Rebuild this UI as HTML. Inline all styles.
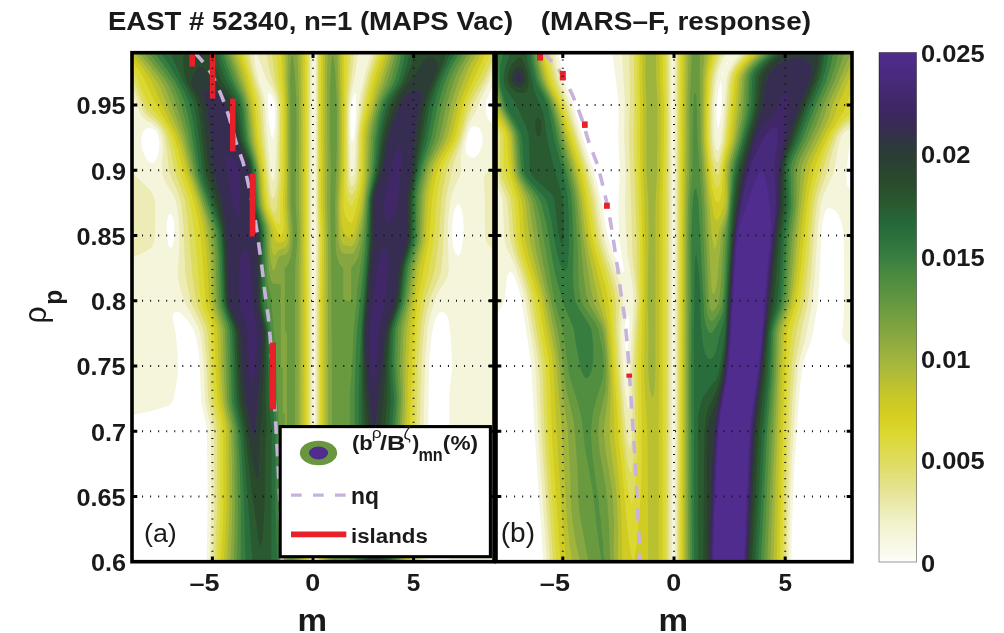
<!DOCTYPE html>
<html><head><meta charset="utf-8"><title>EAST # 52340 n=1 spectrum</title>
<style>
html,body{margin:0;padding:0;background:#fff;}
body{width:1004px;height:633px;overflow:hidden;}
svg{display:block;}
text{font-family:"Liberation Sans",Arial,Helvetica,sans-serif;fill:#1a1a1a;}
.b{font-weight:bold;}
.g{stroke:#111;stroke-width:2;stroke-dasharray:1 7.05;fill:none;}
.ax{fill:none;stroke:#000;stroke-width:3.6;}
.tk{stroke:#000;stroke-width:3;fill:none;}
.nq{fill:none;stroke:#c8b2dc;stroke-width:3.6;stroke-dasharray:12.5 10;}
.isl{fill:#e8202a;}
</style></head>
<body>
<svg width="1004" height="633" viewBox="0 0 1004 633">
<defs>
<clipPath id="cl"><rect x="132" y="52.7" width="362" height="509"/></clipPath>
<clipPath id="cr"><rect x="496" y="52.7" width="356" height="509"/></clipPath>
<linearGradient id="cb" x1="0" y1="0" x2="0" y2="1">
<stop offset="0.0000" stop-color="#502c8e"/>
<stop offset="0.0400" stop-color="#4a2a80"/>
<stop offset="0.1120" stop-color="#3e2763"/>
<stop offset="0.1400" stop-color="#3a2a58"/>
<stop offset="0.1800" stop-color="#2e383e"/>
<stop offset="0.2200" stop-color="#2a4232"/>
<stop offset="0.2520" stop-color="#2a4a2c"/>
<stop offset="0.3000" stop-color="#2a5a30"/>
<stop offset="0.3400" stop-color="#256a3a"/>
<stop offset="0.3920" stop-color="#347a40"/>
<stop offset="0.4360" stop-color="#4a8a40"/>
<stop offset="0.5000" stop-color="#6a9a40"/>
<stop offset="0.5560" stop-color="#88a840"/>
<stop offset="0.6160" stop-color="#a8b83c"/>
<stop offset="0.6760" stop-color="#c8c828"/>
<stop offset="0.7120" stop-color="#d6ce20"/>
<stop offset="0.7480" stop-color="#dcd830"/>
<stop offset="0.8040" stop-color="#dedc60"/>
<stop offset="0.8640" stop-color="#e6e498"/>
<stop offset="0.9240" stop-color="#f2f2cc"/>
<stop offset="0.9840" stop-color="#fafaf0"/>
<stop offset="1.0000" stop-color="#fefefa"/>
</linearGradient>
</defs>
<rect width="1004" height="633" fill="#fff"/>
<g clip-path="url(#cl)"><rect x="132" y="52.7" width="362" height="509" fill="#fff"/>
<path fill="#f5f5dc" d="M208.4 561.7L428.1 561.7L428.2 424.7L429.3 359.4L431.7 334.9L433.7 324.4L435.7 318.8L437.7 314.8L439.7 312.2L441.7 311.7L443.7 312.3L445.7 313.8L447.7 316.9L448.7 320.3L450.9 339.8L452 359.4L452 369.2L449.8 388.8L449.2 398.6L449.2 561.7L494 561.7L494 123.9L490 121.8L488 119.6L486.3 114.7L485.7 108.2L486.1 101.6L487.1 98.4L494 82.7L494 52.7L132 52.7L132 415.2L148.7 411.6L160.9 408.3L168.2 405.8L170.2 404.4L172.4 401.8L173.7 398.6L176.2 385.1L177.4 375.7L178 365.9L177.5 352.9L175.8 333.3L172.5 317L173.3 313.7L174.2 312.8L176.2 311.8L178.3 311.8L180.3 312.8L186.3 318.7L192.3 327.2L194.3 331.8L196.4 339.3L198.9 352.9L199.8 362.7L201 401.8L206.1 424.7L206.8 431.2L207.8 496.4L206.6 561.7ZM456.9 255L455.8 254.2L454.8 251.7L453.8 249L453.1 245.2L452.1 235.4L452.1 225.6L453.8 212.6L455.8 206.8L457.8 204.4L459.8 204.9L461.8 209.7L462.9 215.8L463.6 225.6L463.4 235.4L461.8 248.5L459.8 254.1L457.8 255.7ZM168.3 245.2L166.7 235.4L166.4 228.9L166.8 222.4L168.2 215.7L170.2 213.4L172.2 215.2L174.2 222.5L174.6 235.4L174.2 239.4L172.2 247L170.2 248.4ZM147.6 160.4L145.3 157.1L143.8 153.8L142 147.3L141.3 140.8L142.1 134.3L144.1 130.2L146.1 128.7L148.1 128.1L152.1 128.2L155.9 131L157.8 134.3L159.2 140.8L159.4 147.3L158.1 154.9L156.1 159.8L154.1 162.3L152.1 163.1L150.1 162.5L148.1 160.9ZM470.1 157.1L467.9 155.8L465.8 152.5L465.5 147.3L465.9 144.1L467.9 135.1L469.9 129.6L471.9 126.8L473.9 126.3L475.9 126.4L478.7 127.7L481.2 131L482.6 137.5L482.6 140.8L481.4 147.3L478.3 153.8L475.9 156.4L473.9 157.4L471.9 157.6ZM352.4 140.8L351.2 139.1L351.1 137.5L350.6 124.5L350.8 111.4L351.2 105.4L353.2 96.1L354.1 95.1L355.2 91.8L355.9 95.1L356.1 114.7L355.2 125.9L353.2 141.9ZM272.3 137.5L270.8 134L268.8 122L268 111.4L267.7 95.1L268.8 93.1L270.8 94.3L273.1 98.4L274.8 104.9L275.1 114.7L274.8 125.5L272.8 138.9Z"/>
<path fill="#edecb7" d="M210.4 561.7L312.5 561.7L312.5 300.7L311.5 235.4L311.6 52.7L254.7 52.7L256.7 54.5L258.7 58.5L266.3 78.8L272.8 90.5L274.7 95.1L276.4 101.6L276.9 108.2L277 121.2L275.7 160.4L274.8 175.8L272.8 181.9L270.8 174.3L266.7 131.5L264.7 101.6L263.5 95.1L258.7 81.2L256.7 73L254.7 62.5L254.3 56L254.7 52.7L132 52.7L132 93.2L136 101.6L139.2 111.4L142.1 116.6L146.1 120.5L152.1 123.7L157 127.7L159.4 131L161.8 137.5L162.7 144.1L163 150.6L162 166.9L162.3 173.4L163.1 176.7L165.8 183.2L172.2 193.1L174.2 197L176.2 203L178.5 215.8L179.5 235.4L179.2 248.5L177.7 271.3L178.5 281.1L180.9 290.9L185.4 303.9L194.7 320.3L198.4 327.7L200 333.3L201.1 339.8L203.3 359.4L205.1 401.8L210.2 424.7L210.8 431.2L211.4 503L209.7 561.7ZM317 561.7L423.6 561.7L423.8 414.9L425.2 359.4L427.6 329.2L430 317L435.7 297.4L437.7 293.5L445.4 281.1L448.2 274.6L448.8 271.3L447.8 235.4L448.1 222.4L449.1 209.3L450.6 199.5L452.3 193L455.8 184.1L461 173.4L461.5 170.2L460.6 163.6L460.5 157.1L462.3 147.3L467.9 126.2L471.9 117.9L475.9 111.4L480.7 98.4L489.2 82.1L494 70.1L494 52.7L371.1 52.7L366.4 69L360.1 95.1L356.2 134.3L354.4 170.2L353.2 176.2L351.2 176L350.6 170.2L349.2 134.3L349.2 111.9L350.4 98.4L354.3 78.8L358.3 52.7L315.7 52.7L315.7 202.8L316.2 235.4L315.4 297.4L315.4 561.7ZM134 256.3L142.1 253.5L150.1 248.7L152.1 246.5L154.1 242L155 235.4L155.1 202.8L154.7 199.5L153.7 196.3L150.1 189.9L136.3 176.7L133.7 173.4L132 170.2L132 256.8ZM492 248.6L494 249.9L494 170.2L490 170.5L488 171.3L486 173L484.2 176.7L483.9 180L484.9 199.5L485 235.4L485.3 238.7L486.5 241.9L488.5 245.2L491.8 248.5Z"/>
<path fill="#e4e28b" d="M212.4 561.7L310.6 561.7L310.6 297.4L309.9 235.4L310 52.7L266.2 52.7L270 72.3L271.6 78.8L276.8 94.6L278.5 104.9L278.6 131L277.5 176.7L276.8 185L274.8 196.2L272.8 199.6L270.8 194.3L268.8 179.4L264.7 138.4L262 101.6L260.6 95.1L254.7 76.5L249.1 52.7L132 52.7L132 86L138 97.9L141.7 108.2L143.5 111.4L146.1 114.8L156.1 123.1L160.2 127.6L162.3 131L164.8 137.5L166.5 147.3L169 170.2L171 176.7L178.3 193.3L180.2 199.5L181.4 206.1L183.4 225.6L185.2 271.3L187 284.4L191.7 303.9L201 323.5L203.3 330L204 333.3L206.3 356.1L208.2 398.6L209.1 405.1L213.6 424.7L214.2 431.2L214.5 505.2L212.3 561.7ZM319 561.7L419.9 561.7L420.1 414.9L421.7 359.4L423.6 333.3L424.7 323.5L427.6 308.3L430.3 297.4L439 277.8L441.1 271.3L442.9 251.7L444.5 215.8L445.7 200.7L447.6 189.7L453.6 163.6L461.6 140.8L464.9 127.7L467.9 118.5L473.9 102.7L485.6 82.1L494 63.1L494 52.7L374.5 52.7L368.4 72.3L364.2 88.6L362.2 98.4L357.8 134.3L356.6 173.4L355.2 181.2L353.2 185.6L351.2 186.4L349.2 179.9L348.8 173.4L347.9 114.7L348.7 98.4L351.4 78.8L354.2 52.7L317 52.7L317 202.8L317.8 235.4L317.2 297.4L317.2 561.7Z"/>
<path fill="#dedc5d" d="M216.5 561.7L309.2 561.7L309.1 297.4L308.5 235.4L308.6 52.7L271.7 52.7L274.2 72.3L275.9 82.1L279 95.1L280.2 104.9L279.7 176.7L276.8 207.3L275.7 212.6L274.8 213.6L272.8 211.4L270.8 207.1L268.8 197.1L265.8 166.9L262.6 140.8L259.4 101.6L258 95.1L254 82.1L246.2 52.7L132 52.7L132 73.4L134.4 82.1L143.6 104.9L145.2 108.2L147.8 111.4L156.1 119.1L160.2 123.5L163.2 127.7L166.6 134.3L169.4 144.1L174.3 170.2L183.7 196.3L185.2 202.8L187.5 219.1L192.2 274.6L195.5 297.4L197.9 307.2L205 323.5L207 330L207.6 333.3L208.9 349.6L211.3 398.6L212.2 405.1L216.2 421.4L217.3 431.2L217.3 506.2L214.8 561.7ZM319 561.7L416.4 561.7L416.5 418.1L418.6 356.1L420.6 330L422.3 317L425.9 297.4L432.6 277.8L435 268L438.9 238.7L441.3 199.5L443.3 186.5L447.6 166.9L450.1 160.4L459.2 140.8L465.8 116L470.6 101.6L473.9 95.1L483.9 78.8L494 56.1L494 52.7L377.4 52.7L370 75.5L364.6 98.4L360.3 124.5L359.2 134.3L358.3 176.7L357.2 183L355.2 189.8L353.2 193.6L351.2 194.8L349.2 192.4L347.6 183.2L346.7 124.5L347.1 101.6L350.8 52.7L318 52.7L318.1 202.8L319.1 235.4L318.5 300.7L318.5 561.7Z"/>
<path fill="#dcd832" d="M218.5 561.7L307.7 561.7L307.1 52.7L276.4 52.7L278.6 78.8L281.5 98.4L282 104.9L281.7 173.4L280.1 202.8L280.3 219.1L280.1 222.4L278.8 225.1L276.8 223.5L272.8 216.9L270.7 212.6L268.3 206.1L266.7 195.9L264 166.9L260.1 137.5L256.9 101.6L254.7 91.9L243.5 52.7L132 52.7L132 67.2L134.7 72.3L142.1 91.4L148.7 104.9L151 108.2L158.1 116.3L164.2 124.5L168 131L170.9 137.5L173.6 147.3L179 170.2L189 199.5L191.6 212.6L195.2 238.7L199.3 287.6L200.8 300.7L202.4 307.2L209.8 326.8L211 333.3L213 379L214.3 398.6L215.3 405.1L219.3 421.4L220.2 427.9L220.2 506.2L219.4 529.1L217.5 561.7ZM321 561.7L413 561.7L413 424.7L414.8 369.2L416 346.4L418 323.5L421.3 300.7L428.4 271.3L433.6 241.9L434.6 232.2L436 206.1L437.5 193L439.9 180L443.1 166.9L446.1 160.4L453.8 146.7L456.5 140.8L458.6 134.3L464.3 111.4L467.3 101.6L470.3 95.1L483.9 69.2L491 52.7L380.3 52.7L375.3 66.2L371.3 79.6L367.7 95.1L363.3 117.3L360.8 134.3L360.4 170.2L359.8 180L358 189.7L355.2 199.1L353.2 203.7L351.2 205.6L349.2 204.3L347.2 199.4L346.2 193L345.8 186.5L345.5 111.4L347.5 52.7L319.1 52.7L319.2 202.8L320.5 235.4L319.9 300.7L319.9 561.7Z"/>
<path fill="#d1cc23" d="M222.5 561.7L305.9 561.7L305.9 300.7L305.2 245.2L305 52.7L280.8 52.7L281.8 78.8L283.8 101.6L283.9 114.7L283.8 173.4L282.8 202.8L283.8 225.6L283.1 232.2L280.8 235.4L278.8 234.2L276.8 230.7L268.8 213L266.4 206.1L265 196.3L262.3 166.9L257.7 137.5L254.2 101.6L248.6 78.8L240.6 52.7L132 52.7L132 60.6L138.1 69L144.1 78.8L156.2 104.9L169.6 127.7L174.2 137.5L177.3 147.3L183.3 170.2L193.4 199.5L198.4 222.1L200.4 235.4L202.1 251.7L205.4 300.7L206.7 307.2L212.4 323.5L214.1 330L215.9 375.7L217.5 398.6L218.5 405.1L222.4 421.4L223.3 427.9L223.4 506.2L222.4 532.3L220.5 561.7ZM323.1 561.7L409.5 561.7L409.6 427.9L412.4 349.6L414.2 326.8L417.6 300.7L429.3 238.7L431.7 202.8L432.9 193L435.7 178.2L438.8 166.9L442 160.4L450 147.3L453.5 140.8L455.8 134.1L461 111.4L463.9 101.6L467.9 92L486 52.7L383.4 52.7L377.4 69L373.5 82.1L363.9 124.5L362.6 134.3L362.2 173.4L361.3 183.2L359.3 195.6L355.2 213.6L353.2 220L351.2 222.8L349.2 222L347.2 219.6L345.3 215.8L344.3 212.6L343.3 206.1L344.1 170.2L344.2 52.7L320.9 52.7L320.8 202.8L322.2 235.4L321.5 300.7L321.5 561.7Z"/>
<path fill="#bac131" d="M224.5 561.7L303.6 561.7L303.6 300.7L302.7 52.7L283.6 52.7L284.1 78.8L285.6 104.9L285.6 173.4L285 202.8L286.7 232.2L286.5 235.4L284.8 240.3L282.8 242.3L280.8 243L276.8 242.4L274.8 240.2L273.6 232.2L271.7 225.6L266.7 213L264.6 206.1L263.3 196.3L261.2 170.2L255.5 137.5L253.2 111.4L251.8 101.6L245 75.5L237.5 52.7L132 52.7L132 54.8L143.2 69L151.9 82.1L163.3 108.2L176.3 134.3L180.3 145.8L187.5 173.4L196.6 199.5L203.7 228.9L206.7 255L209.2 300.7L210.4 307.2L215.7 323.5L217.3 330L218.7 372.5L220.3 398.6L221.3 405.1L224.5 418.3L226.2 427.9L226.6 506.2L225.8 529.1L223.9 561.7ZM325.1 561.7L406.6 561.7L406.6 427.9L407.7 398.6L408.2 365.9L409.3 343.1L411 323.5L417.6 279.9L419.6 268L424.2 248.5L425.9 238.7L427.7 206.1L429.1 193L431.7 179.1L435 166.9L438.2 160.4L449.8 140.8L453 131L458 108.2L461.2 98.4L471.8 72.3L481.3 52.7L386.6 52.7L377.7 78.8L372.4 98.4L366.1 124.5L365 131L364.5 137.5L363.9 176.7L361.3 199.1L359.3 211.5L355.2 228.9L353.2 235.5L351.2 237.7L347.2 236.4L345.2 234.7L343.2 231.6L341.5 222.4L340.9 215.8L340.7 202.8L342.3 170.2L342.3 101.6L341.6 52.7L322.9 52.7L322.8 202.8L324.1 235.4L323.6 300.7L323.6 561.7Z"/>
<path fill="#9fb43d" d="M228.5 561.7L301.3 561.7L301 268L301.6 235.4L301 202.8L301.2 101.6L300.2 52.7L285.7 52.7L285.9 78.8L287.1 104.9L287.3 173.4L286.8 202.8L288.8 235.4L288 241.9L286.9 245.9L284.8 248L278.8 250.1L274.8 255.8L272.8 254L271.8 248.5L271.4 245.2L271.3 235.4L270.5 228.9L263.9 209.3L262.5 202.8L259.9 170.2L254.1 140.8L251.2 111.4L249.8 101.6L241.2 72.3L234.5 52.7L134.7 52.7L148 69L157.2 82.1L160.5 88.6L170.9 114.7L178.3 131.1L182.7 144.1L189.8 173.4L198.8 199.5L204.4 219.1L207.5 232.2L210.4 261L212.2 300.7L213.3 307.2L218.6 323.5L220.1 330L221.3 372.5L222.8 398.6L223.7 405.1L228.2 424.7L228.8 431.2L229.5 506.2L228.7 532.3L227.1 561.7ZM327.1 561.7L404 561.7L404.1 427.9L405.3 398.6L405.3 362.7L406.5 336.6L407.8 323.5L411.9 300.7L416.2 271.3L417.6 264.1L422.3 245.2L423.4 238.7L425 202.8L426 193L428.5 180L431.9 166.9L435.7 158.9L444.3 144.1L447.2 137.5L450 127.7L454 108.2L459.8 90.3L466.8 72.3L471.5 62.5L476.9 52.7L389.6 52.7L375 98.4L368.3 124.5L366.6 137.5L365.7 176.7L361.3 215L357.2 233.8L355.2 241.2L353.2 245.1L351.2 246.3L347.2 245.9L343.2 244.7L341.5 241.9L340.3 235.4L339.3 222.4L338.9 202.8L340.5 173.4L340.8 140.8L340.7 101.6L339.5 52.7L325.1 52.7L324.7 82.1L324.8 202.8L325.9 235.4L325.7 561.7Z"/>
<path fill="#85a640" d="M230.5 561.7L298.7 561.7L298.6 268L299.7 235.4L298.8 202.8L299.1 101.6L297.5 52.7L287.9 52.7L287.7 78.8L288.6 104.9L288.5 202.8L290.5 228.9L290.2 241.9L288.9 248.9L286.9 253.7L284.8 255.1L280.8 255.6L278.8 257L277 261.5L274.8 269.7L272.8 270.3L270.8 262.3L270 255L269.3 245.2L269.2 232.2L267.8 225.6L262.5 209.3L261.1 202.8L258.6 170.2L257.6 163.6L252.3 140.8L248.6 104.9L246.1 95.1L231.7 52.7L139.1 52.7L150 65.8L159.9 78.8L163.9 85.3L166.9 91.9L183.6 137.5L191.9 173.4L200.8 199.5L207.8 222.4L210.3 232.2L213 258.3L215.2 303.9L216.8 310.5L222 326.8L222.9 333.3L223.6 365.9L225 398.6L225.9 405.1L230.4 424.7L231.1 431.2L231.9 460.6L232.3 506.2L231.7 532.3L230.3 561.7ZM329.1 561.7L401.7 561.7L401.7 431.2L403.2 395.3L402.4 365.9L403.2 339.8L404.2 326.8L409.1 303.9L414.3 268L420.8 241.9L421.5 235.4L423 196.3L424.5 186.5L427.6 172.6L429.2 166.9L431.7 160.8L440.5 144.1L443.3 137.5L445.9 127.7L450.7 104.9L459.2 78.8L465.1 65.8L472.7 52.7L392.5 52.7L383.6 82.1L376.3 101.6L370.5 124.5L368.8 137.5L367.7 173.4L361.6 225.6L359.3 238.2L357.2 245.7L354.4 251.7L353.2 253.2L351.2 254.1L343.2 253.4L341.2 251.8L339.1 246.2L338.1 238.7L337.2 206.1L338.7 173.4L339 104.9L337.3 52.7L327.8 52.7L327 75.5L327.5 170.2L327 202.8L327.9 232.2L328 264.8L328.2 561.7Z"/>
<path fill="#6a9a40" d="M234.6 561.7L284.8 561.7L284.8 414.9L282.8 411.6L282.8 369.2L280.8 365.9L280.8 303.9L278.8 300.7L280.8 297.4L280.8 284.4L272.8 283.6L270.8 280.2L269.2 271.3L268.6 264.8L267.6 245.2L267.5 232.2L266.2 225.6L260.3 206.1L259.2 196.3L257.5 170.2L256.4 163.6L252.1 147.3L250.1 137.5L246.9 104.9L244.6 96.6L239 82.1L228.8 52.7L144.1 52.7L164.4 78.8L168.5 85.3L172.9 95.1L177.4 108.2L186.3 136.9L194.8 176.7L210.2 222.4L212.8 232.2L214.4 245.2L215.4 258.3L217.1 300.7L218.2 307.2L223.4 323.5L225 330L227.2 398.6L228.1 405.1L232.5 424.7L233.3 431.2L234.4 460.6L235 506.2L234.7 532.3L233.6 561.7ZM288.9 561.7L294.9 561.7L294.9 290.9L295.3 264.8L296.9 245.8L297.3 235.4L295.7 202.8L295.8 166.9L296.5 140.8L296.5 101.6L294.9 74.2L292.9 54.8L290.9 57L289.9 82.1L290.5 104.9L290.8 206.1L292.5 225.6L292.8 238.7L292 248.5L290.2 258.3L288.9 262.1L286.9 266.1L284.8 268L284.8 330L286.9 333.3L286.9 561.7ZM333.1 561.7L399.5 561.7L399.5 431.2L401.1 398.6L399.7 362.7L400.9 330L402 323.5L407.6 300.7L412.7 264.8L418.8 241.9L419.5 235.4L420.6 196.3L422.2 186.5L425.8 170.2L429.1 160.4L436.8 144.1L439.3 137.5L441.7 127.7L445.7 107.6L453.8 80.7L458.8 69L468.5 52.7L395.3 52.7L392 65.8L387.1 82.1L379.8 98.4L377.5 104.9L372.8 124.5L371 137.5L369.4 173.4L366.1 196.3L363.9 222.4L361.8 238.7L359.3 252.6L357.2 258.9L355.2 262.7L351.2 268L351.2 300.7L345.2 300.7L343.2 303.9L343.2 333.3L343.2 268L341.2 266.5L339.1 263.2L337.3 258.3L336.1 251.7L335.5 241.9L335.1 202.8L337 144.1L337 104.9L335.1 69.2L333.1 52.7L331.1 61.9L329.9 88.6L330 140.8L330.8 170.2L330.2 206.1L331.5 294.1L331.9 362.7L331.9 561.7Z"/>
<path fill="#518e40" d="M238.6 561.7L280.6 561.7L279.3 506.2L279.2 427.9L277.4 398.6L276.1 359.4L272 310.5L271.4 297.4L268.1 284.4L267.1 274.6L265.9 232.2L264.7 225.6L259 206.1L258 196.3L256.3 170.2L254.7 161.6L249 140.8L247.7 131L246 111.4L244.6 102.7L242.6 96.5L235.1 78.8L225.9 52.7L148.8 52.7L160.2 66.9L170.2 80.9L174.5 88.6L178.7 98.4L181.8 108.2L188.3 133L195.1 170.2L196.7 176.7L212.5 222.4L215.2 232.2L216.5 242.3L217.6 258.3L219.3 300.7L220.4 307.2L225.7 323.5L227.3 330L229.4 398.6L230.2 405.1L234.6 424.7L235.5 431.2L236.9 460.6L237.8 503L237.7 532.3L237 561.7ZM351.2 561.7L397.2 561.7L397.2 431.2L398.9 398.6L397.1 365.9L398.1 330L399.4 323.5L404.2 307.2L405.6 300.7L410.6 264.8L416.9 241.9L417.6 235.4L418.4 196.3L419.9 186.5L423.5 170.2L426.4 160.4L433.1 144.1L435.3 137.5L441.7 106.6L448.9 82.1L454.4 69L464.2 52.7L463.8 52.7L398.2 52.7L396.3 62.5L391.8 78.8L389.2 85.3L380.8 101.6L376.4 118L373.3 136.7L371.4 170.2L367 199.5L365.3 225.1L363.3 246.1L357.2 290.9L356 307.2L353.9 326.8L351.6 372.5L349.9 392L349.8 561.7Z"/>
<path fill="#387d40" d="M242.6 561.7L279.1 561.7L277.5 509.5L277.3 427.9L274.5 401.8L273 362.7L271.3 333.3L266.7 303.9L265 274.6L264.4 232.2L263.2 225.6L257.7 206.1L254.7 166.9L247.3 140.8L243.2 104.9L240.6 96.7L232.1 78.8L222.9 52.7L154.4 52.7L166.2 68.4L175.2 82.1L180.4 91.9L184.3 101.6L187.7 114.7L191.1 131L198.4 175.2L200.8 183.2L214.7 222.4L217.4 232.2L219.5 255L221.3 300.7L222.4 307.2L227.9 323.5L229.5 330L230.1 339.8L231.7 398.6L232.6 405.8L237.4 427.9L238.2 437.7L239.7 463.8L240.8 503L240.8 561.7ZM355.2 561.7L394.8 561.7L394.8 431.2L396.7 398.6L394.5 365.9L394.8 346.4L395.6 330L397 323.5L403.1 303.9L404.7 294.1L407.9 268L415.1 241.9L415.8 235.4L416.3 196.3L417.8 186.5L421.9 166.9L431.4 137.5L437.7 106.1L443.6 85.3L450.3 69L453.8 62.5L460 52.7L401.3 52.7L399.9 62.5L395.5 78.8L392.6 85.3L383.2 101.6L381.1 108.2L378.7 118L375.3 139.4L373.2 170.2L368.2 199.5L365.3 248.4L357.4 326.8L355.8 352.9L354.6 395.3L354.6 561.7Z"/>
<path fill="#286d3b" d="M246.6 561.7L277.2 561.7L275.4 512.8L275.2 427.9L271.4 398.6L269.2 333.3L268.4 326.8L264.7 311.8L263.5 303.9L262.9 232.2L261.7 225.6L256.4 206.1L255.5 196.3L254 170.2L251.8 160.4L245.5 140.8L243.9 131L242.1 111.4L240.6 102.8L238.6 97.5L228.8 78.8L223.9 65.8L219.6 52.7L161.1 52.7L170.2 66.5L178.3 79.9L184.6 91.9L188.7 101.6L193 121.2L200.4 173.5L204.2 186.5L216.5 220.9L219.6 232.2L220.5 239.7L221.8 261.5L223 300.7L225.2 310.5L230 323.5L231.7 330L232.4 339.8L234.3 401.8L239.7 427.9L241.2 444.2L243.9 496.4L245.5 561.7ZM359.3 561.7L392 561.7L392 431.2L394 398.6L392.2 372.5L391.9 362.7L393.3 330L395.5 321.3L401.2 303.9L402.9 294.1L405.9 268L407.5 261.2L413.3 241.9L413.9 235.4L414.3 196.3L415.7 186.5L419.7 166.9L427 140.8L433.2 108.2L437.5 91.9L440.9 82.1L446.5 69L449.8 62.4L455.5 52.7L404.9 52.7L404.2 59.2L403 65.8L399.2 78.8L396.2 85.3L385.9 101.6L382 114.7L379.4 127.7L377.5 140.8L375 170.2L370.3 193L369.3 199.5L367.3 248.5L361.5 317L358.7 388.8L358.5 561.7Z"/>
<path fill="#2a5a30" d="M252.7 561.7L271.2 561.7L271.6 427.9L268.3 398.6L267.6 333.3L266 323.5L262.7 310.5L261.8 303.9L261.6 232.2L259.6 222.4L255.9 209.3L254.7 202.8L253.3 176.7L252.3 166.9L249.4 157.1L244.5 144.1L242.8 137.5L238.4 104.9L236 98.4L224.9 78.8L219.9 65.8L216 52.7L170.4 52.7L183.4 82.1L190.3 95.1L194 104.9L196.4 118L203.3 173.4L205.9 183.2L218.5 220.7L221.3 232.2L222.7 248.5L224.1 290.9L224.9 303.9L226.8 310.5L232.9 326.8L234.1 333.3L236.6 398.6L237.9 408.3L242.1 427.9L243.2 437.7L252.6 561.7ZM363.3 561.7L388.7 561.7L388.7 431.2L390.7 401.8L389.6 365.9L390.3 346.4L391.4 330L393.4 322.1L398.7 307.2L400.4 300.7L403.5 273.4L405 264.8L410.1 248.5L411.7 241.9L412.4 235.4L412.4 202.8L413 193L417.6 167.7L424.4 137.5L429.6 107.7L432 98.4L435.7 86.9L445.7 63.2L451.1 52.7L409.5 52.7L407 65.8L401.5 82.1L390.9 98.4L387.7 104.9L384.1 118L380.8 134.3L376.6 170.2L372 189.7L370.2 199.5L369 241.9L362.2 330L361.4 392L361.9 431.2L361.9 561.7Z"/>
<path fill="#2a4a2c" d="M365.3 561.7L385 561.7L385.1 427.9L387.1 401.8L387.6 365.9L389.4 333.3L391.6 323.5L398.3 303.9L400 294.1L403 268L404.5 261.5L410.4 241.9L411.1 235.4L411.3 196.3L425.9 111.4L428.1 101.6L431.1 91.9L442 65.8L446.1 52.7L416.1 52.7L404.7 82.1L392.4 101.6L389.4 109.9L385.4 124.1L383.1 134.3L381.4 144.1L378.2 170.2L373.1 189.7L371.2 199.5L370 245.2L364.1 317L363 336.6L363.3 385.2L365.1 431.2L365.1 561.7ZM260.7 547.7L262.7 538L263.2 532.3L265.1 493.2L265.3 450.8L266.6 424.7L265.3 395.3L266.1 333.3L265.4 326.8L261.6 310.5L260.6 303.9L260.5 232.2L259.4 225.6L254.1 206.1L251.2 166.9L249.3 160.4L241.7 140.8L239.6 131L236.6 110.8L234.6 102.7L232.6 98.2L224.2 85.3L220.6 78.8L215.4 65.8L211.8 52.7L184.5 52.7L183.7 56L183.1 62.5L184.1 72.3L186.6 82.1L195.3 98.4L197.6 104.9L199.9 118L204.4 159.6L206.3 173.4L207.9 179.9L214.2 199.5L219.8 219.1L222.7 232.2L224 251.7L225.6 300.7L226.9 307.2L234.6 326.8L235.9 333.3L238.2 385.5L239.3 401.8L244.5 427.9L252.7 498.4L258.7 541L260.1 545.4Z"/>
<path fill="#2c3d38" d="M369.3 561.7L380.6 561.7L380.7 427.9L382.8 405.1L387.8 333.3L390.1 323.5L395.5 308.9L397.5 301.7L400.7 274.6L402.3 264.8L407.5 248.4L409.5 239.5L409.7 202.8L410.3 193L413.6 173.4L422.8 111.4L425.1 101.6L428.2 91.9L430.6 85.3L435.7 74.4L437.6 69L437.6 65.8L435.7 60.4L433.7 58.2L431.7 57.3L429.6 57.3L427.6 58L425.6 59.4L422.7 62.5L415.6 73.6L409.5 81.2L400 95.1L395.5 103.2L389.4 120.4L385.4 134.6L383.4 145.1L379.8 170.2L373.3 192.5L372.6 196.3L372 202.8L371 245.2L364.8 320.3L364.1 336.6L364.8 379L366.2 401.8L368.4 427.9L368.4 561.7ZM256.7 478.3L258.7 476.4L258.9 473.6L259.3 441L261.7 414.9L262.3 392L264.7 344.2L264.8 333.3L264.1 326.8L260.4 310.5L259.4 303.9L259.3 232.2L258.7 227.7L253 206.1L252 196.3L250.7 170.8L249.1 163.6L239.7 140.8L238 134.3L234.6 116.8L231.7 104.9L230.5 101.6L226.5 95.1L206.4 70.2L202.4 66.8L200.4 66.5L198.4 67.5L196.4 69.7L192.3 76.8L191 82.1L191.8 85.3L198.9 98.4L201.3 104.9L203.5 118L208.2 163.6L209.7 173.4L217.3 199.5L223.1 225.6L224 232.2L225.1 248.5L226.8 300.7L228.5 308.7L235.1 323.5L237.3 330L238.2 339.8L240.6 386.3L242.1 401.8L247.3 427.9L252.7 461.8L254.7 471.6L256.3 476.9Z"/>
<path fill="#372d52" d="M373.3 561.7L375 561.7L375.1 427.9L377.9 405.1L378.9 392L382.1 369.2L384.2 343.1L385.9 330L387.8 323.5L393.4 308.5L395.5 301.4L397.5 286.9L398.4 274.6L399.9 264.8L403.5 254.1L403.9 251.7L405.5 248.2L407.5 239.2L408 193L411.5 171.9L414.3 140.8L416.3 124.5L420.9 98.4L420.7 95.1L419.6 91.9L417.6 90.3L415.6 90.1L413.6 90.7L409.5 93.1L403.5 99.1L400.2 104.9L393.4 121.6L389.4 133.1L387.4 140.7L382.4 170.2L380.7 176.7L375.3 191.3L373.3 199.7L373.1 245.2L372.4 251.7L371.3 257.3L369.3 281.9L368.5 300.7L365.5 326.8L365.2 333.3L365.4 346.4L367.3 380.8L372.5 427.9L372.6 561.7ZM254.7 435.1L258.2 392L260.7 369.2L262.8 336.6L262.7 329.9L257.6 303.9L257.4 235.4L256.7 226.4L255.2 222.4L254.7 218.9L253.3 215.8L250.9 206.1L249.6 189.7L248.7 170.2L248 166.9L244.6 157.1L239.3 147.3L235 137.5L226.5 106L224.5 101.6L222.5 99L218.5 95L214.5 92.2L210.4 90.3L208.4 89.8L206.4 90L204.4 91.6L204.2 95.1L206.8 104.9L208 111.4L212.9 160.4L214.5 172.1L221.7 199.5L225.9 225.6L227.9 268L228.5 301.8L232.5 313.7L237.7 323.5L240 330L241.6 346.4L242.6 369.2L245.7 398.6L252.7 433.4L254.2 434.4Z"/>
<path fill="#402868" d="M373.3 382.6L375.6 372.5L378.7 330L380 323.5L385 303.9L386.4 294.1L388.6 264.8L388.5 258.3L388 255L387.4 252.8L385.4 249.8L383.4 249.2L381.4 252L379.4 257.6L377.4 266.5L372.8 307.2L371.3 317L370 330L370.2 343.1L371.3 371.3L373.3 382.2ZM252.7 382L254.7 372.5L255 369.2L256.7 341.8L256.8 330L252.7 303.9L250.4 264.8L248.6 254.5L246.6 249.8L244.6 249.4L242.6 251.5L240.6 256.4L239.5 261.5L238.7 274.6L238.7 294.1L239.1 300.7L240.2 307.2L245.8 323.5L247.4 330L249.4 365.9L250.8 379ZM387.4 222.8L389.4 222.3L391.4 220.5L393.4 217.6L395.5 213L397.2 206.1L401.9 163.6L401.5 150.8L399.5 146.6L397.5 148.7L395.5 152.9L393.4 158.8L384.8 196.3L383.9 202.8L384.2 212.6L385.4 219.9L387 222.4ZM238.6 216.6L240 215.8L240.5 212.6L239.8 202.8L239.9 176.7L238.7 166.9L236.6 162.7L232.6 157.8L230.5 156.2L228.5 155.4L226.5 157L226.3 163.6L228.5 180L232.6 203.5L234.6 210.2L236.6 214.2L238.1 215.8Z"/>
</g>
<g clip-path="url(#cr)"><rect x="496" y="52.7" width="356" height="509" fill="#fff"/>
<path fill="#f5f5dc" d="M545 561.7L791.3 561.7L791.9 527.6L794.1 470.3L799.3 395.3L800.8 380.1L803 364.4L805.3 356.7L810.5 343.1L812.4 336.6L817.3 307.2L819.3 281.1L821.5 232.2L822.5 222.4L823.9 215.8L825.3 211L827.5 208.2L832 208.8L834.2 209.8L836.4 211.8L838.7 215.6L842.4 225.6L843.8 235.4L844.2 300.7L843.8 313.7L842.1 333.3L842.4 336.6L844 339.8L847.5 343L852 344.7L852 188.8L849.8 188.2L847.5 186.2L846.7 183.2L846.3 176.7L847.5 161.2L849.3 147.3L851.1 137.5L852 136.6L852 52.7L734.8 52.7L734.1 53.8L733.1 52.7L612.3 52.7L618.6 101.6L618.4 140.8L620 170.2L618.3 206.1L618.3 215.8L619.6 241.9L624.1 271.3L622.8 272.5L613.9 254.4L609.3 241.9L607.2 234.3L601.6 202.8L597.2 183.2L592.5 166.9L582.8 138.3L573.2 104.9L564.5 82.1L560.5 65.2L558.7 52.7L496 52.7L496 312.6L498.2 311.5L500.5 309.2L503 303.9L504.9 297L506.9 277.8L507.8 274.6L509.3 272.1L511.6 272.2L513.8 275.5L518.2 286.8L521 297.4L529.6 352.9L531.2 365.9L534.9 437.7L543.3 561.7ZM627.2 356.1L625 346.8L624.4 330L625 323.6L627.3 315.6L628.9 317L629.4 320.3L629.1 336.6L627.3 356.4ZM717.9 127.7L716.4 118L716.4 108.2L718.5 89.7L719.9 85.3L720.7 79.5L721.6 85.3L721.8 101.6L720.7 117L718.5 129.4ZM722.3 75.5L723 71.4L723.5 72.3L723 77.3ZM724.5 69L725.2 65.9L725.2 70ZM727.1 62.5L727.4 61.8L728.2 62.5L727.4 65.4ZM729.1 59.2L729.6 58.1L730.4 59.2L729.6 60.7ZM731.1 56L731.9 54.5L732.6 56L731.9 57.1Z"/>
<path fill="#edecb7" d="M547.2 561.7L672 561.7L672.1 170.2L671.3 140.8L671.2 52.7L621.9 52.7L624.9 101.6L624.1 137.5L625.6 170.2L625.2 209.3L625.6 222.4L627.6 255L632.8 287.6L633.7 300.7L630.1 365.9L629.5 406.7L627.3 407.8L625 390.3L622.8 364.3L621.1 336.6L621 326.8L623 303.9L622.8 297.4L621.8 290.9L619.2 281.1L609.5 254.9L605.3 241.9L602.8 230.8L597.7 199.5L593.1 180L588.4 163.6L580.5 140.2L570.1 104.9L560.5 80.3L557 65.8L555 52.7L496 52.7L496 170.2L496.3 176.7L498 186.5L501.5 196.3L502.7 200.9L504.2 235.4L504.9 241.9L506.7 248.5L513.8 262.8L516 268.5L523.2 290.9L525.4 300.7L534.6 359.4L536 377.4L538.7 441L546.9 561.7ZM676.2 561.7L788.7 561.7L789.7 514.1L791.7 463.8L795.7 395.3L798.4 365.9L800.5 356.1L805.2 339.8L812.1 303.9L814.9 274.6L818 225.6L820.9 203.7L823.1 196L833.3 173.4L834.9 166.9L838 147.3L840.8 137.5L842.6 134.3L845.3 131.3L852 127.6L852 52.7L740.9 52.7L734.1 62L729.9 69L728.4 72.3L726.5 78.8L723.5 118L721.5 137.5L720.7 143L718.5 150.4L716.3 150L714 139.2L713.5 118L714 100.2L716.3 80.1L717.9 72.3L720.7 64L726.1 52.7L674.5 52.7L674.5 140.8L675.1 170.2L675.2 561.7Z"/>
<path fill="#e4e28b" d="M551.6 561.7L669.7 561.7L669.9 166.9L669.1 52.7L629.2 52.7L630 101.6L628.9 131L629 144.1L630.1 170.2L632.6 258.3L636.2 290.1L636.6 300.7L636.2 310.5L634.5 326.8L634 343.1L632.3 369.2L632.4 421.4L632 437.7L631.7 442.1L629.5 448.9L627.3 439.8L625 420.4L620.6 369.2L618.4 330L619.3 303.9L618.8 297.4L617.8 290.9L614.2 277.8L605 251.7L602.1 241.9L600 232.2L594.3 196.3L587.9 170.2L577.4 137.5L568.7 108.2L558.2 82.1L554.1 65.8L552 52.7L496 52.7L496 130.7L497.7 137.5L498.1 173.4L500.4 183.2L506.9 199.5L507.8 206.1L510 235.4L510.9 241.9L513.5 251.7L522.7 278.6L527.2 294.1L538.2 359.4L539.6 379L541.7 437.7L550.1 561.7ZM678.5 561.7L786.5 561.7L787.5 512.8L788.9 470.3L792.8 392L795.3 362.7L800 339.8L802.1 326.8L806.9 307.2L808.1 300.7L810.9 274.6L815.5 215.8L817.8 199.5L820.9 189.3L826.8 173.4L832.6 150.6L837 137.5L838.7 134.2L843.1 128.6L847.5 124.9L852 122.7L852 52.7L744.2 52.7L734.3 65.8L730.8 72.3L729.6 75.5L728 85.3L725.9 114.7L723.4 140.8L720.7 153.6L718.5 161.4L716.3 162L714 155.8L711.9 140.8L711.5 121.2L712 101.6L714.5 75.5L717.2 65.8L722.4 52.7L676.5 52.7L677.1 199.5L677.1 561.7Z"/>
<path fill="#dedc5d" d="M553.9 561.7L667.8 561.7L668.1 163.6L667.5 52.7L633.7 52.7L634.4 101.6L633.5 144.1L636.7 238.7L636.8 268L638.8 300.7L636.8 326.8L634.9 369.2L635.1 424.7L634.8 441L633.8 457.3L631.7 472.2L629.5 471.1L627.3 461.5L624.2 437.7L618.3 365.9L616.1 330L616 303.9L614.3 290.9L610.8 277.8L602.8 254.3L599.2 241.9L597.2 232.2L592.3 199.5L585.6 170.2L566.4 108.2L564 101.6L556.9 85.3L554.6 78.8L551.4 65.8L549.2 52.7L496 52.7L496 125L498.9 131L500.4 137.5L500.1 163.6L500.7 173.4L502.6 180L508.6 193L510.6 199.5L511.7 209.3L513.3 232.2L514.5 241.9L516.8 251.7L527.5 284.4L531 297.4L541.9 362.7L542.9 379L544.7 437.7L553.1 561.7ZM678.5 561.7L784.4 561.7L786.4 473.6L790.1 388.8L792.3 359.4L796.7 330L802.7 307.2L804.5 297.4L807.5 271.3L813 209.3L814.2 201L815.9 193L827.7 153.8L833.9 137.5L836.4 132.8L840.9 126.9L845.3 122.4L852 118.2L852 52.7L747.1 52.7L736.6 65.8L732.9 72.3L731.7 75.5L730.1 85.3L728.2 111.4L725.3 140.8L718.5 173.9L716.3 174.6L714 168.3L711.8 156.9L710.6 147.3L709.9 131L710 108.2L710.9 91.9L712.4 75.5L714.7 65.8L719.3 52.7L677.9 52.7L678.4 202.8L678.4 561.7Z"/>
<path fill="#dcd832" d="M558.3 561.7L665.6 561.7L665.6 202.8L666.2 157.1L666.2 104.9L665.5 82.1L665.5 52.7L636.7 52.7L637.4 101.6L636.8 144.1L639.8 241.9L640 277.8L640.7 300.7L639.1 326.8L637.6 369.2L638.1 431.2L637.7 454L634 495.7L631.7 504.6L629.5 497.8L627.3 484.4L622 441L616.6 372.5L613.9 330L612.9 307.2L611.9 297.4L608.2 281.1L599.9 255L596.2 241.9L594.3 232.2L589 196.3L585 177.5L580.5 160.8L562.9 104.9L554.4 85.3L552.1 78.8L548.7 65.8L546.5 52.7L496 52.7L496 120.5L500.1 127.7L502.8 134.3L503.6 140.8L503.9 163.6L504.9 173.4L511.6 190.9L514.1 199.5L515.2 209.3L516.6 232.2L517.8 241.9L520.9 255L530.5 284.4L534.1 297.4L545.4 362.7L546.3 379L548 437.7L556.4 561.7ZM680.7 561.7L782.2 561.7L783.6 486.7L787.4 385.5L788.9 359.4L791.7 333.3L793.8 323.5L798.7 307.2L800.7 297.4L804 271.3L810.3 206.1L812.5 193L815.8 180L822.7 157.1L827.9 144.1L832.5 134.3L836.7 127.7L843.1 119.9L847.5 115.8L852 112.9L852 52.7L749.9 52.7L738.9 65.8L736.3 69.8L733.7 75.5L732.1 85.3L730.4 108.2L727.1 140.8L722.2 163.6L720.7 178.2L719.8 183.2L718.5 187.5L716.3 187.6L714 182.2L712.9 176.7L709.6 154.1L708.5 140.8L708.3 124.5L708.8 98.4L710.5 75.5L712.5 65.8L716.5 52.7L679.6 52.7L679.8 561.7Z"/>
<path fill="#d1cc23" d="M560.5 561.7L634 561.7L631.7 557.2L629.5 545.8L627.3 527.8L622.8 476.9L619 441L611.2 326.8L609.2 307.2L607.3 294.1L605 284.4L596.3 255L593 241.9L590.7 228.9L586.7 199.5L584.2 186.5L579.7 166.9L561.7 108.2L557.9 98.4L551.7 85.3L549.4 78.8L545.4 62.5L543.9 52.7L496 52.7L496 116.6L504.9 130.5L507.1 137.5L508.7 163.6L509.8 173.4L517.8 199.5L518.8 209.3L520.5 235.4L521.4 241.9L524.9 256.6L533.8 284L537.6 297.4L548.8 359.4L550 379L552.1 441L560.3 558.4ZM636.2 561.7L662.4 561.7L662.6 202.8L663.9 137.5L663.9 104.9L662.8 82.1L662.7 52.7L639.5 52.7L639.5 78.8L640.2 101.6L639.7 144.1L642.4 238.7L642.8 294.1L640.8 372.5L641.8 424.7L641.8 463.8L641.2 486.7L639.9 509.5L636.2 547.2L634 561.7ZM682.9 561.7L779.6 561.7L781.4 473.6L785.2 365.9L787.5 333.3L789.6 323.5L795.8 303.9L797.5 294.1L800.5 271.3L807.1 206.1L809 193L811.7 180L816.2 163.6L821.4 150.6L829.2 134.3L843.4 111.4L846.5 104.9L848.7 98.4L852 85.8L852 52.7L753 52.7L746.8 59.2L739.2 69L736.3 74.8L735.2 78.8L729.6 137.5L723.8 163.6L721.7 193L720.7 197.9L718.5 202.3L716.3 202L714 196.4L711.8 186.1L708.3 157.1L707 140.8L707 108.2L708.3 78.8L709.6 69L713.7 52.7L681.6 52.7L681.4 561.7Z"/>
<path fill="#bac131" d="M567.2 561.7L622.3 561.7L622 535.6L621 509.5L619.4 483.4L614.6 437.7L612.3 372.5L610.1 339.8L608.1 323.5L600.8 287.6L589.5 241.2L583.9 199.5L577.9 170.2L559.6 108.2L557.2 101.6L549.4 85.3L547 78.8L543 62.5L541.6 52.7L496 52.7L496 112.4L504.9 125.2L508.9 134.3L509.9 140.8L511.4 163.6L512.5 173.4L521.4 199.5L522.7 209.3L524.7 235.4L526.3 245.2L529.5 258.3L538.3 286.9L541 297.4L551.9 356.1L553.5 372.5L557.4 444.2L561.8 512.8L566 561.7ZM649.5 561.7L658.7 561.7L658.7 427.9L659.4 369.2L659.4 202.8L660.4 173.4L660.9 137.5L660.9 101.6L659.8 82.1L659.6 52.7L642.3 52.7L642.2 78.8L643 101.6L642.7 150.6L643.2 173.4L644.4 199.5L645.1 245.2L645.2 300.7L644.1 372.5L644.7 388.8L647.2 427.9L647.9 489.9L648 561.7ZM685.1 561.7L776.7 561.7L778.6 474.9L783 349.1L784.5 330L786.2 323.5L791.8 307.2L793.4 300.7L796.9 274.6L805.2 196.3L807.5 180.7L809.7 170.2L811.6 163.6L815.7 153.8L823.6 137.5L833.9 118L838.1 104.9L852 72.5L852 52.7L756.2 52.7L745.2 64.3L739.8 72.3L737.7 78.8L734.9 111.4L731.8 137.5L730.5 144.1L726.2 160.4L725.1 166.9L724.8 193L724.2 202.8L723 208.5L720.7 214.2L718.5 218.7L716.3 221.1L714 216.3L709.6 187.3L705.5 140.8L705.4 108.2L706.4 78.8L708.1 65.8L710.9 52.7L683.9 52.7L683 238.7L683.1 561.7Z"/>
<path fill="#9fb43d" d="M573.9 561.7L617.9 561.7L618.2 532.3L616.8 496.4L615.1 480.1L610.7 447.5L609.7 434.4L609.5 424.7L610.7 388.8L609.7 359.4L607 330L605 321.6L598.5 300.7L587.7 248.5L585 232.2L581.4 199.5L577 176.7L572.9 160.4L557.8 108.2L555.4 101.6L547.5 85.3L545 78.8L541 62.5L539.7 52.7L496 52.7L496 106.3L507.1 125.4L510.8 134.3L511.9 140.8L513.4 163.6L514.6 173.4L516.7 180L522.5 193L524.8 199.5L526.4 209.3L529.1 235.4L530.6 245.2L533.6 258.3L544 297.4L554.7 352.9L556 362.7L561.6 424.7L567 519.3L569.4 542.8L572.3 561.7ZM685.1 561.7L773.6 561.7L775.6 480.1L781.4 333.3L783 325.3L789.4 307.2L791.5 297.4L793.6 281.1L797.5 238.7L804.6 173.4L805.9 166.9L808.2 160.4L826 124.5L828.7 118L832.5 104.9L852 62.6L852 52.7L759.1 52.7L749.6 62.1L744.1 69L740.8 75.5L740 78.8L737.8 108.2L735.4 127.7L733.3 140.8L728.1 160.4L726.9 166.9L726.5 176.7L726.9 199.5L726.4 206.1L725.2 213.2L719.5 228.9L716.3 245.4L714 249.5L711.8 236.1L709.8 209.3L706.8 180L703.9 140.8L703.8 111.4L704.5 78.8L705.8 65.8L708 52.7L686.1 52.7L684.5 238.7L684.8 561.7ZM651.8 397.2L654 396L655.1 382.2L655.4 369.2L655.5 202.8L657.1 173.4L657.5 137.5L657.4 101.6L656.4 82.1L655.9 52.7L645.8 52.7L645.4 69L645.4 82.1L646.3 101.6L646.4 170.2L648.3 202.8L648.5 241.9L647.6 300.7L648.4 333.3L648.1 369.2L649.5 387.6L651.3 395.3Z"/>
<path fill="#85a640" d="M580.5 561.7L613.7 561.7L614.1 522.5L613.2 503L611.7 487.1L605.6 450.8L604.1 434.4L604.3 424.7L607.7 398.6L608.6 379L607.8 356.1L605 330.2L602.8 323L594.4 303.9L591.1 290.9L583.1 238.7L579 199.5L576.7 186.5L573.2 170.2L555 104.9L552.3 98.4L545.7 85.3L543.2 78.8L539.9 65.8L537.9 52.7L496 52.7L496 97.6L499.8 108.2L510.1 127.7L512.6 134.3L513.6 140.8L515.4 166.9L516.4 173.4L518.8 180L527 196.3L529 202.8L535.7 248.5L546.3 294.1L553.2 326.8L557.4 349.6L559.2 362.7L561.9 388.8L567.7 427.9L570 470.3L571.2 506.2L572.3 519.3L575.6 542.1L580 561.7ZM687.4 561.7L770.4 561.7L773.1 473.6L777.8 372.5L779 333.3L780.8 325L787.2 307.2L789.3 297.4L791.5 277.8L795 235.4L798.6 206.1L800.9 170.2L801.5 166.9L803.6 160.4L819.8 127.7L823.7 118L827.7 104.9L837 85.3L851.1 52.7L761.9 52.7L751.8 62.5L747.4 67.7L744.5 72.3L743.1 75.5L742.4 78.8L740.5 108.2L738.2 124.5L735.3 140.8L729.9 160.4L728.7 166.9L728.2 176.7L728.1 199.5L727.5 209.3L725.2 220.9L722.6 228.9L721.3 235.4L717.2 281.1L716.3 287.8L714 294.7L711.8 292L711.1 284.4L707.2 209.3L702.3 140.8L702.4 78.8L704.6 52.7L688.6 52.7L687.5 101.6L687.3 170.2L686.4 199.5L686 238.7L686.4 561.7Z"/>
<path fill="#6a9a40" d="M589.5 561.7L610.2 561.7L608.9 525.8L607.2 500.5L605.1 483.4L599.5 450.8L598.1 434.4L598.2 427.9L599.2 418.1L605 393.3L605.9 385.5L606.4 365.9L605 347.1L603.3 333.3L601.5 326.8L598.4 320.2L589 303.9L586.1 294.1L584.2 281.1L577 202.8L575.1 189.7L570.9 170.2L553.4 104.9L550.7 98.4L543.9 85.3L541.4 78.8L537.4 62.5L536.2 52.7L496 52.7L496 87.1L501.7 108.2L511.8 127.7L514.4 134.3L515.7 144.1L517.1 166.9L518.1 173.4L520.9 180L530.2 196.3L532.6 202.8L535.2 215.8L539.2 241.9L542.8 261.5L551.6 304.7L557.6 330L561.5 352.9L565 382.2L567.2 393.8L572.4 414.9L574.3 424.7L577.6 470.3L578.4 499.7L579.1 509.5L581.1 522.5L588.5 561.7ZM689.6 561.7L767.2 561.7L771.7 444.2L775.8 372.5L776.9 333.3L778.1 326.8L786.1 303.9L787.6 294.1L792.3 235.4L796.2 206.1L796.9 173.4L797.5 166.9L800.8 157.1L809.3 140.8L816.6 124.5L823.5 104.9L835.3 78.8L844.6 52.7L764.7 52.7L754.1 62.6L748.8 69L746.8 72.3L745.4 75.5L744.7 78.8L743.3 104.9L741.7 118L737.2 140.8L731.7 160.4L730.4 166.9L729.7 176.7L728.7 206.1L727.4 217L723.9 235.4L720.8 284.4L719.4 297.4L718.5 302.2L716.3 307.9L714 310.8L711.8 311.5L709.6 307.5L708.7 300.7L704.8 209.3L700.4 140.8L699.7 75.5L699.9 52.7L691.8 52.7L689.8 101.6L689.5 170.2L688.1 199.5L687.6 238.7L688.1 561.7Z"/>
<path fill="#518e40" d="M602.8 561.7L604.9 561.7L603.7 555.2L602.8 539.8L601.9 535.6L600.6 518.8L599.5 512.8L598.4 499.5L592.5 457.3L591 434.4L591.5 424.7L593.3 411.6L596.6 398.6L602.8 378.7L603.6 365.9L602.8 353.1L598.4 329.3L595.6 323.5L584.5 307.2L582.8 303.9L580.5 297.1L578.7 284.4L577.9 251.7L575.1 209.3L573.9 197.1L572.1 186.5L567.7 166.9L559.7 137.5L552.7 108.2L550.5 101.6L542 85.3L539.5 78.8L535.6 62.5L534.5 52.7L533.8 52.7L496 52.7L496 68.9L497.3 82.1L499.8 95.1L503.4 108.2L506.4 114.7L513.6 127.7L516.2 134.3L517.5 144.1L518.9 166.9L520 173.4L523 180L531.7 193L535.3 199.5L537.3 206.1L539.7 215.8L553.9 296.7L556.1 307.1L562 326.8L563.4 333.3L569.4 376.4L577.4 401.8L581.4 418.1L585 447.3L592.6 489.9L596.1 521.4L601.4 561.7ZM691.8 561.7L764 561.7L769.4 437.7L773.8 372.5L774.9 333.3L776.4 325.9L783.2 307.2L784.7 300.7L785.5 294.1L789.7 235.4L793.8 206.1L793.6 173.4L793.9 166.9L797.1 157.1L806.8 137.5L813.5 121.2L819.5 104.9L829.8 82.1L835.3 65.8L838.5 52.7L767.5 52.7L756.8 62.5L751.9 68.1L749.2 72.3L747.7 75.5L747.1 78.8L746 104.9L744.8 114.7L739.1 140.8L733.6 160.4L731.7 170.2L729.5 206.1L726 235.4L723 294.1L722.3 300.7L720.7 308L718.5 313.2L714 319.8L711.8 321.2L709.6 320L708.2 317L707.2 313.7L706.3 307.2L702.2 209.3L697.6 140.8L696.6 98.4L696.2 94L694 93.8L692.9 118L692.4 170.2L690 199.5L689.3 238.7L689.7 300.7L689.1 372.5L690 561.7Z"/>
<path fill="#387d40" d="M694 561.7L760.9 561.7L767 434.4L771.8 372.5L773 333.3L773.4 330L775.1 323.5L781.1 307.2L783 296.6L787.2 235.4L791.4 206.1L790.6 173.4L790.8 166.9L791.9 162.2L793.8 157.1L801.6 140.8L815.7 104.9L825.8 82.1L830.8 65.8L833.1 52.7L770.4 52.7L759.4 62.5L754.1 68.5L751.6 72.3L750.2 75.5L749.5 78.8L748.6 104.9L747.4 114.7L741.1 140.8L734.6 163.6L733 173.4L728 232.2L724.4 297.4L723.1 310.5L720.7 318L714 330L711.8 332.9L709.6 332.9L707.4 329.4L705.4 323.5L704.3 317L698.5 202.2L696.2 187.7L694 190.8L692.9 199.5L692.1 212.6L691.3 245.2L691.7 300.7L691.1 330L691 372.5L691.9 561.7ZM585 377.7L587.2 378.1L589.5 375.8L592 369.2L593 362.7L593.4 356.1L593 343.1L591.5 330L588.5 323.5L580.1 310.5L576.6 303.9L575.5 300.7L574.1 294.1L572.9 277.8L573.6 241.9L572 206.1L570.6 193L567.2 175.8L557.2 137.5L551.6 111.3L548.6 101.6L539.9 85.3L537.4 78.8L533.6 62.5L532.5 52.7L497.4 52.7L498.3 75.5L499.8 88.6L504.9 107.7L507.1 112.5L515.6 127.7L518.2 134.3L519.3 140.8L520.9 166.9L522.1 173.4L525.5 179.9L537.7 196.3L539.6 199.5L542 206.1L546.8 225.6L552.7 261.5L556.1 278.1L563.4 303.9L572.9 326.8L574.4 333.3L576.1 345.2L580.1 365.9L582 372.5L583.6 375.7Z"/>
<path fill="#286d3b" d="M696.2 561.7L758 561.7L764.2 437.7L769.7 373.4L771.2 333.3L773.2 323.5L778.8 307.2L780.8 295.1L784.6 235.4L789 206.1L789 196.3L787.9 173.4L788.1 166.9L790.8 157.1L798.1 140.8L811.9 104.9L822 82.1L826.6 65.8L828.4 52.7L773.5 52.7L765.8 59.2L759.2 65.8L754.4 72.3L753 75.5L752.3 78.8L751.3 104.9L750.6 111.4L748.4 121.2L736.5 163.6L734.1 177.5L729.9 225.6L725.2 309.3L724.3 317L723 324.6L719.3 336.6L716.3 350.2L714 356L711.8 358.6L709.6 359.3L707.4 357.9L705.1 353.6L702.9 344.2L700.7 323.5L700.2 294.1L699.2 277.8L698.5 268L696.2 253.2L695.2 258.3L694.5 268L694.4 303.9L693.6 333.3L694.4 561.7ZM565 271.7L567.2 268.6L568.3 258.3L569 245.2L568.7 212.6L567.2 192.4L562.8 171.3L554.5 140.8L549.4 114.1L547.2 105L542.7 95.2L537.1 85.3L535.9 82.1L531.1 62.5L530 52.7L503.5 52.7L500.4 65.8L500 75.5L500.4 85.3L502.7 94L507.1 107.3L509.4 112L516.9 124.5L521.2 134.3L522.2 140.8L523.8 166.9L524.9 173.4L527.1 177.5L531.5 183.2L543.6 196.3L545.8 199.5L547.2 202.8L550.5 215.8L554.8 241.9L557.5 255L560.5 265.1L562.8 269.6L564.6 271.3Z"/>
<path fill="#2a5a30" d="M698.5 561.7L755 561.7L761.7 434.4L767.5 372.8L769.5 333.3L770.5 326.8L776.1 307.2L777.3 300.7L778.6 287.6L782.1 235.4L786.5 206.1L786.6 196.3L785.7 173.4L785.9 166.9L787.2 160.4L789.7 153.5L795.2 140.8L807.5 107.4L817.2 85.3L819.6 78.8L822.3 69L825 52.7L776.6 52.7L769.1 59.2L762.4 65.8L757.6 72.3L756.1 75.5L755.4 78.8L754.1 104L753.1 111.4L751.6 118L738.6 163.6L736.5 173.4L735.2 183.2L732.5 209.3L730.8 232.2L725.2 333.3L720.7 361.8L718.5 373.5L716.3 379.6L706.5 392L702.6 398.6L700.2 405.1L698.5 414.7L697.8 431.2L698.2 561.7ZM560.5 242L562.8 244.2L563.7 238.7L564 215.8L562.8 200.8L560.5 189.6L554.6 170.2L549 147.3L547.2 138.2L543.7 114.7L541.7 108.2L537.1 98.4L533.8 89.1L530.4 72.3L527.8 62.5L526.2 52.7L510.7 52.7L507.1 61.4L504.8 69L503.8 75.5L503.9 82.1L504.9 85.9L507.1 90.9L514.7 101.6L516.4 104.9L525.1 124.5L527.5 131L528.4 134.3L529.1 140.8L529.8 166.9L531.1 173.4L533.1 176.7L536.1 180.2L550.8 193L553 196.3L554.4 199.5L558.2 232.2L560.5 241.9Z"/>
<path fill="#2a4a2c" d="M705.1 561.7L752 561.7L759.2 427.9L764.8 375.7L768 333.3L769.4 323.5L773 307.2L774 300.7L779.3 238.7L784.1 206.1L784.3 166.9L786.6 157.1L798.5 124.5L807.3 101.6L816.8 78.8L820.2 65.8L822.2 52.7L779.7 52.7L768.8 62.5L763 69L759.3 75.5L758.4 78.8L756.7 101.6L755.3 111.4L740.7 163.6L738.5 174L736.3 189.4L734.1 208.8L731.1 245.2L725.5 343.1L723 363.2L720.7 375.5L718.5 384L716.3 390.6L708.4 408.3L706.6 414.9L705.5 421.4L704.6 431.2L704.1 450.8L703.3 561.7ZM538.3 137.3L540.5 135.1L541.2 131L541.2 124.5L540.5 120.4L538.3 116.9L536 119.5L535.3 124.5L535.3 127.7L536.7 134.3ZM518.2 92.7L522.7 93L525.6 91.9L527.1 90L527.7 88.6L528.6 82.1L528.2 75.5L527.1 71L522.7 59.6L520.5 56.7L518.2 57.4L516 59.4L511.6 65L509.3 69.3L507.7 75.5L507.6 78.8L508.1 82.1L509.4 85.3L511.7 88.6L513.8 90.5L516.3 91.9Z"/>
<path fill="#2c3d38" d="M707.4 561.7L749.5 561.7L756.6 427.9L763.7 365.9L766.9 330L771.1 300.7L776.6 241.9L781.8 206.1L782.9 166.9L785 157.1L793.6 131L814.2 78.5L817.4 65.8L819 52.7L783.7 52.7L772.6 62.5L766.7 69L764.4 72.3L762.8 75.5L761.8 78.8L759.3 101.6L757.7 111.4L742.2 166.9L738.5 188.3L733.2 232.2L730.2 274.6L726.3 343.1L723.6 369.2L720.7 384.7L718.5 393.3L714 407.2L709.6 418.6L707.6 431.2L707.1 450.8L706.9 561.7ZM516 86.5L518.2 87.2L520.5 87.1L522.7 86.2L525.2 82.1L525.6 78.8L525.4 75.5L524.5 72.3L522.7 68.7L520.5 66.9L518.2 66.8L516 67.7L513.8 69.7L511.6 74.2L511.1 78.8L511.6 81L511.9 82.1L514.4 85.3Z"/>
<path fill="#372d52" d="M711.8 561.7L747.5 561.7L754.2 431.2L756.3 409.8L762.2 365.9L774.1 245.9L779.6 206.1L780.6 176.7L781.5 163.6L783.8 153.8L792.7 124.5L799.7 104.9L809.7 79.6L811.5 72.3L811.1 65.8L809.7 62.5L805.3 59.2L800.8 57.4L798.6 57.2L794.2 57.9L789.8 59.2L780.8 63.5L773.6 69L769.7 73.5L767.5 77.8L765.2 87.6L764.1 98.4L762.2 108.2L754.1 133.4L747.4 156.3L744 170.2L741.5 183.2L735 225.6L733.1 245.2L728 330L725.2 365.5L723 381.6L719.5 398.6L718.5 405.8L717 411.6L716.3 419.6L714.6 427.9L714 444.8L712.2 467.1L711.8 492.7L710.3 522.5L709.8 561.7ZM518.2 82.2L520.5 81.6L522.1 78.8L521.8 75.5L520.5 73.3L518.2 72.7L516 74.3L515.3 75.5L515 78.8L516 80.7L517.9 82.1Z"/>
<path fill="#402868" d="M711.8 561.7L746.5 561.7L751.6 450.8L753.7 421.4L761.4 362.7L771.8 255L773.9 235.4L777.5 209.3L778.3 166.9L779.9 157.1L784.9 137.5L786.1 131L786.6 114.7L788.5 98.4L788.4 95.1L787.5 91.9L785.2 92.6L783 95.9L777.4 108.2L772.9 114.7L760.8 128.9L756.3 138L751.9 151.2L746.6 170.2L742.3 189.7L737.6 215.8L735.3 232.2L733.5 251.7L728 343.1L725.7 369.2L723.3 385.5L717.5 418.1L715.5 437.7L713.1 483.4L710.7 561.7Z"/>
<path fill="#482a7c" d="M711.8 561.7L745.6 561.7L746.7 529.1L751.3 434.4L753.2 414.9L758.9 375.7L761.2 356.1L768.8 271.3L775.6 209.3L775.9 199.5L774.3 163.6L775 157.1L777.7 140.8L778.1 134.3L777.9 131L777.1 127.7L776.4 126.7L774.1 127.2L771.9 128.8L769.5 131L765.2 136.1L758.5 147.6L754.1 157.5L749.6 170.1L745.2 186L740.8 206L736.3 231.8L733.9 258.3L730.3 323.5L728.1 356.1L725.9 375.7L718.1 421.4L716.2 444.2L713.7 496.4L711.6 561.7Z"/>
<path fill="#502c8e" d="M714 561.7L743.7 561.7L745.2 540.8L745.8 506.2L747.4 484.1L748.1 454L749.6 439.7L750.2 424.7L751 418.1L751.9 415.4L752.6 405.1L754.1 399.7L755.1 388.8L756.3 385.5L756.9 375.7L758.5 369.7L759.3 356.1L760.8 349.9L761.5 333.3L763 324.9L763.7 303.9L765.2 294.6L766.1 277.8L767.5 271.2L768.3 255L769.7 248.7L770.1 235.4L771 225.6L770 206.1L767.5 189.2L765.2 178.3L763 171L760.8 170.7L758.5 173.9L754.1 183.9L740.8 221.8L738.5 229.8L737.9 238.7L736.3 245.1L735.8 261.5L734.1 273.7L733.3 300.7L731.9 312L731.2 336.6L730.7 343.1L729.6 348.3L728.8 365.9L727.4 371.5L726.6 382.2L725.2 385.9L724.2 395.3L723 398.1L722.5 405.1L721.8 408.3L720.7 410.8L720 421.4L718.5 426.8L717.9 447.5L716.3 460.4L715.5 499.7L714 514L713.5 561.7Z"/>
</g>
<path d="M194.9 52.7 L200.6 59.1 L205.7 65.6 L210.3 72.0 L213.8 78.5 L216.9 84.9 L219.7 91.4 L222.3 97.8 L224.7 104.2 L227.0 110.7 L229.1 117.1 L231.0 123.6 L232.8 130.0 L234.4 136.5 L236.2 142.9 L238.4 149.3 L240.8 155.8 L243.0 162.2 L244.7 168.7 L246.3 175.1 L247.8 181.6 L249.2 188.0 L250.5 194.4 L251.8 200.9 L253.0 207.3 L254.2 213.8 L255.3 220.2 L256.3 226.7 L257.3 233.1 L258.2 239.5 L259.0 246.0 L259.9 252.4 L260.8 258.9 L261.7 265.3 L262.5 271.8 L263.3 278.2 L264.0 284.6 L264.7 291.1 L265.6 297.5 L266.5 304.0 L267.4 310.4 L268.3 316.9 L268.9 323.3 L269.5 329.8 L270.1 336.2 L270.6 342.6 L271.1 349.1 L271.5 355.5 L271.9 362.0 L272.3 368.4 L272.7 374.9 L273.1 381.3 L273.5 387.7 L273.9 394.2 L274.3 400.6 L274.7 407.1 L275.1 413.5 L275.5 420.0 L275.9 426.4 L276.2 432.8 L276.6 439.3 L277.0 445.7 L277.4 452.2 L277.7 458.6 L278.1 465.1 L278.4 471.5 L278.7 477.9 L279.0 484.4 L279.4 490.8 L279.7 497.3 L279.9 503.7 L280.2 510.2 L280.5 516.6 L280.8 523.0 L281.0 529.5 L281.3 535.9 L281.5 542.4 L281.8 548.8 L282.0 555.3 L282.2 561.7" class="nq" clip-path="url(#cl)"/>
<path d="M543.4 52.7 L549.6 59.1 L555.3 65.6 L560.4 72.0 L564.3 78.5 L567.7 84.9 L570.8 91.4 L573.6 97.8 L576.3 104.2 L578.8 110.7 L581.2 117.1 L583.3 123.6 L585.2 130.0 L587.1 136.5 L589.1 142.9 L591.5 149.3 L594.1 155.8 L596.5 162.2 L598.5 168.7 L600.2 175.1 L601.9 181.6 L603.4 188.0 L604.9 194.4 L606.3 200.9 L607.6 207.3 L608.9 213.8 L610.2 220.2 L611.3 226.7 L612.4 233.1 L613.3 239.5 L614.3 246.0 L615.2 252.4 L616.2 258.9 L617.2 265.3 L618.1 271.8 L619.0 278.2 L619.8 284.6 L620.6 291.1 L621.5 297.5 L622.6 304.0 L623.6 310.4 L624.5 316.9 L625.3 323.3 L625.9 329.8 L626.5 336.2 L627.1 342.6 L627.6 349.1 L628.1 355.5 L628.6 362.0 L629.0 368.4 L629.4 374.9 L629.9 381.3 L630.3 387.7 L630.8 394.2 L631.2 400.6 L631.6 407.1 L632.1 413.5 L632.5 420.0 L632.9 426.4 L633.3 432.8 L633.8 439.3 L634.2 445.7 L634.6 452.2 L634.9 458.6 L635.3 465.1 L635.7 471.5 L636.1 477.9 L636.4 484.4 L636.8 490.8 L637.1 497.3 L637.4 503.7 L637.7 510.2 L638.0 516.6 L638.3 523.0 L638.6 529.5 L638.9 535.9 L639.2 542.4 L639.5 548.8 L639.7 555.3 L640.0 561.7" class="nq" clip-path="url(#cr)"/>
<rect class="isl" x="189.4" y="52.0" width="5.6" height="14.6"/>
<rect class="isl" x="209.9" y="52.0" width="5.4" height="46.6"/>
<rect class="isl" x="230.0" y="98.6" width="5.5" height="52.8"/>
<rect class="isl" x="249.7" y="173.7" width="5.7" height="62.8"/>
<rect class="isl" x="270.0" y="342.6" width="6.0" height="66.8"/>
<rect class="isl" x="537.0" y="52.0" width="6.0" height="8.6"/>
<rect class="isl" x="559.8" y="70.9" width="6.0" height="9.5"/>
<rect class="isl" x="582.0" y="121.4" width="5.7" height="6.5"/>
<rect class="isl" x="604.0" y="202.7" width="5.8" height="6.1"/>
<rect class="isl" x="626.4" y="373.6" width="5.6" height="4.1"/>
<line x1="212.4" y1="559.7" x2="212.4" y2="54.7" class="g"/>
<line x1="562.8" y1="559.7" x2="562.8" y2="54.7" class="g"/>
<line x1="313.0" y1="559.7" x2="313.0" y2="54.7" class="g"/>
<line x1="674.0" y1="559.7" x2="674.0" y2="54.7" class="g"/>
<line x1="413.6" y1="559.7" x2="413.6" y2="54.7" class="g"/>
<line x1="785.2" y1="559.7" x2="785.2" y2="54.7" class="g"/>
<line x1="134.0" y1="496.4" x2="492.0" y2="496.4" class="g"/>
<line x1="498.0" y1="496.4" x2="850.0" y2="496.4" class="g"/>
<line x1="134.0" y1="431.2" x2="492.0" y2="431.2" class="g"/>
<line x1="498.0" y1="431.2" x2="850.0" y2="431.2" class="g"/>
<line x1="134.0" y1="365.9" x2="492.0" y2="365.9" class="g"/>
<line x1="498.0" y1="365.9" x2="850.0" y2="365.9" class="g"/>
<line x1="134.0" y1="300.7" x2="492.0" y2="300.7" class="g"/>
<line x1="498.0" y1="300.7" x2="850.0" y2="300.7" class="g"/>
<line x1="134.0" y1="235.4" x2="492.0" y2="235.4" class="g"/>
<line x1="498.0" y1="235.4" x2="850.0" y2="235.4" class="g"/>
<line x1="134.0" y1="170.2" x2="492.0" y2="170.2" class="g"/>
<line x1="498.0" y1="170.2" x2="850.0" y2="170.2" class="g"/>
<line x1="134.0" y1="104.9" x2="492.0" y2="104.9" class="g"/>
<line x1="498.0" y1="104.9" x2="850.0" y2="104.9" class="g"/>
<path class="tk" d="M132.0 496.4h5.3M494.0 496.4h-5.3M132.0 431.2h5.3M494.0 431.2h-5.3M132.0 365.9h5.3M494.0 365.9h-5.3M132.0 300.7h5.3M494.0 300.7h-5.3M132.0 235.4h5.3M494.0 235.4h-5.3M132.0 170.2h5.3M494.0 170.2h-5.3M132.0 104.9h5.3M494.0 104.9h-5.3M212.4 561.7v-5.3M212.4 52.7v5.3M313.0 561.7v-5.3M313.0 52.7v5.3M413.6 561.7v-5.3M413.6 52.7v5.3M496.0 496.4h5.3M852.0 496.4h-5.3M496.0 431.2h5.3M852.0 431.2h-5.3M496.0 365.9h5.3M852.0 365.9h-5.3M496.0 300.7h5.3M852.0 300.7h-5.3M496.0 235.4h5.3M852.0 235.4h-5.3M496.0 170.2h5.3M852.0 170.2h-5.3M496.0 104.9h5.3M852.0 104.9h-5.3M562.8 561.7v-5.3M562.8 52.7v5.3M674.0 561.7v-5.3M674.0 52.7v5.3M785.2 561.7v-5.3M785.2 52.7v5.3"/>
<rect class="ax" x="132" y="52.7" width="362" height="509"/>
<rect class="ax" x="496" y="52.7" width="356" height="509"/>
<rect x="879" y="52.5" width="37.5" height="509.5" fill="url(#cb)" stroke="#000" stroke-opacity="0.4" stroke-width="1"/>
<g>
<rect x="280.2" y="426.6" width="210.2" height="130.1" fill="#fff" stroke="#000" stroke-width="3.1"/>
<ellipse cx="318.5" cy="453" rx="18.7" ry="12.2" fill="#6a9640"/>
<ellipse cx="318.5" cy="453" rx="9.6" ry="6.4" fill="#4f2c8e"/>
<line x1="291" y1="495.2" x2="346.3" y2="495.2" stroke="#c8b2dc" stroke-width="3.2" stroke-dasharray="10.7 11.3"/>
<line x1="291" y1="534.4" x2="346.3" y2="534.4" stroke="#e8202a" stroke-width="5.7"/>
</g>
<text class="b" x="107.93" y="30.10" font-size="25.47" textLength="405.18" lengthAdjust="spacingAndGlyphs">EAST # 52340, n=1 (MAPS Vac)</text>
<text class="b" x="540.80" y="30.10" font-size="25.47" textLength="270.22" lengthAdjust="spacingAndGlyphs">(MARS–F, response)</text>
<text class="b" x="91.04" y="571.10" font-size="24.10" textLength="35.08" lengthAdjust="spacingAndGlyphs">0.6</text>
<text class="b" x="76.53" y="505.84" font-size="24.10" textLength="49.12" lengthAdjust="spacingAndGlyphs">0.65</text>
<text class="b" x="91.04" y="440.59" font-size="24.10" textLength="35.08" lengthAdjust="spacingAndGlyphs">0.7</text>
<text class="b" x="76.53" y="375.33" font-size="24.10" textLength="49.12" lengthAdjust="spacingAndGlyphs">0.75</text>
<text class="b" x="91.04" y="310.07" font-size="24.10" textLength="35.08" lengthAdjust="spacingAndGlyphs">0.8</text>
<text class="b" x="76.53" y="244.82" font-size="24.10" textLength="49.12" lengthAdjust="spacingAndGlyphs">0.85</text>
<text class="b" x="91.04" y="179.56" font-size="24.10" textLength="35.08" lengthAdjust="spacingAndGlyphs">0.9</text>
<text class="b" x="76.53" y="114.31" font-size="24.10" textLength="49.12" lengthAdjust="spacingAndGlyphs">0.95</text>
<text class="b" x="189.57" y="590.90" font-size="23.29" textLength="30.09" lengthAdjust="spacingAndGlyphs">–5</text>
<text class="b" x="305.25" y="590.90" font-size="23.29" textLength="14.99" lengthAdjust="spacingAndGlyphs">0</text>
<text class="b" x="406.85" y="590.90" font-size="23.29" textLength="13.57" lengthAdjust="spacingAndGlyphs">5</text>
<text class="b" x="539.87" y="590.90" font-size="23.29" textLength="30.09" lengthAdjust="spacingAndGlyphs">–5</text>
<text class="b" x="666.25" y="590.90" font-size="23.29" textLength="14.99" lengthAdjust="spacingAndGlyphs">0</text>
<text class="b" x="778.54" y="590.90" font-size="23.29" textLength="13.57" lengthAdjust="spacingAndGlyphs">5</text>
<text class="b" x="297.41" y="630.90" font-size="30.55" textLength="29.53" lengthAdjust="spacingAndGlyphs">m</text>
<text class="b" x="658.41" y="630.90" font-size="30.55" textLength="29.53" lengthAdjust="spacingAndGlyphs">m</text>
<text class="b" x="920.92" y="62.10" font-size="23.70" textLength="63.82" lengthAdjust="spacingAndGlyphs">0.025</text>
<text class="b" x="920.92" y="162.80" font-size="23.70" textLength="49.64" lengthAdjust="spacingAndGlyphs">0.02</text>
<text class="b" x="920.92" y="265.50" font-size="23.70" textLength="63.82" lengthAdjust="spacingAndGlyphs">0.015</text>
<text class="b" x="920.92" y="368.00" font-size="23.70" textLength="49.64" lengthAdjust="spacingAndGlyphs">0.01</text>
<text class="b" x="920.92" y="469.20" font-size="23.70" textLength="63.82" lengthAdjust="spacingAndGlyphs">0.005</text>
<text class="b" x="920.92" y="571.60" font-size="23.70" textLength="14.19" lengthAdjust="spacingAndGlyphs">0</text>
<text x="143.95" y="541.60" font-size="26.40" textLength="32.89" lengthAdjust="spacingAndGlyphs">(a)</text>
<text x="500.80" y="541.60" font-size="27.47" textLength="34.22" lengthAdjust="spacingAndGlyphs">(b)</text>
<text class="b" x="350.98" y="503.80" font-size="23.09" textLength="27.96" lengthAdjust="spacingAndGlyphs">nq</text>
<text class="b" x="351.03" y="542.50" font-size="20.00" textLength="76.80" lengthAdjust="spacingAndGlyphs">islands</text>
<text class="b" x="351.90" y="449.80" font-size="21.07" textLength="20.77" lengthAdjust="spacingAndGlyphs">(b</text>
<text font-family="Liberation Serif, serif" x="371.71" y="438.37" font-size="14.34" textLength="9.86" lengthAdjust="spacingAndGlyphs">ρ</text>
<text class="b" x="379.97" y="449.80" font-size="21.07" textLength="25.30" lengthAdjust="spacingAndGlyphs">/B</text>
<text font-family="Liberation Serif, serif" x="403.43" y="439.40" font-size="18.86" textLength="7.22" lengthAdjust="spacingAndGlyphs">ζ</text>
<text class="b" x="412.20" y="449.80" font-size="21.07" textLength="7.03" lengthAdjust="spacingAndGlyphs">)</text>
<text class="b" x="418.38" y="460.80" font-size="17.82" textLength="24.33" lengthAdjust="spacingAndGlyphs">mn</text>
<text class="b" x="442.87" y="449.80" font-size="21.07" textLength="35.19" lengthAdjust="spacingAndGlyphs">(%)</text>
<text font-family="Liberation Serif, serif" transform="translate(45.76 323.41) rotate(-90)" font-size="31.31" textLength="17.10" lengthAdjust="spacingAndGlyphs">ρ</text>
<text class="b" transform="translate(61.93 304.73) rotate(-90)" font-size="25.33" textLength="14.91" lengthAdjust="spacingAndGlyphs">p</text>
</svg>
</body></html>
